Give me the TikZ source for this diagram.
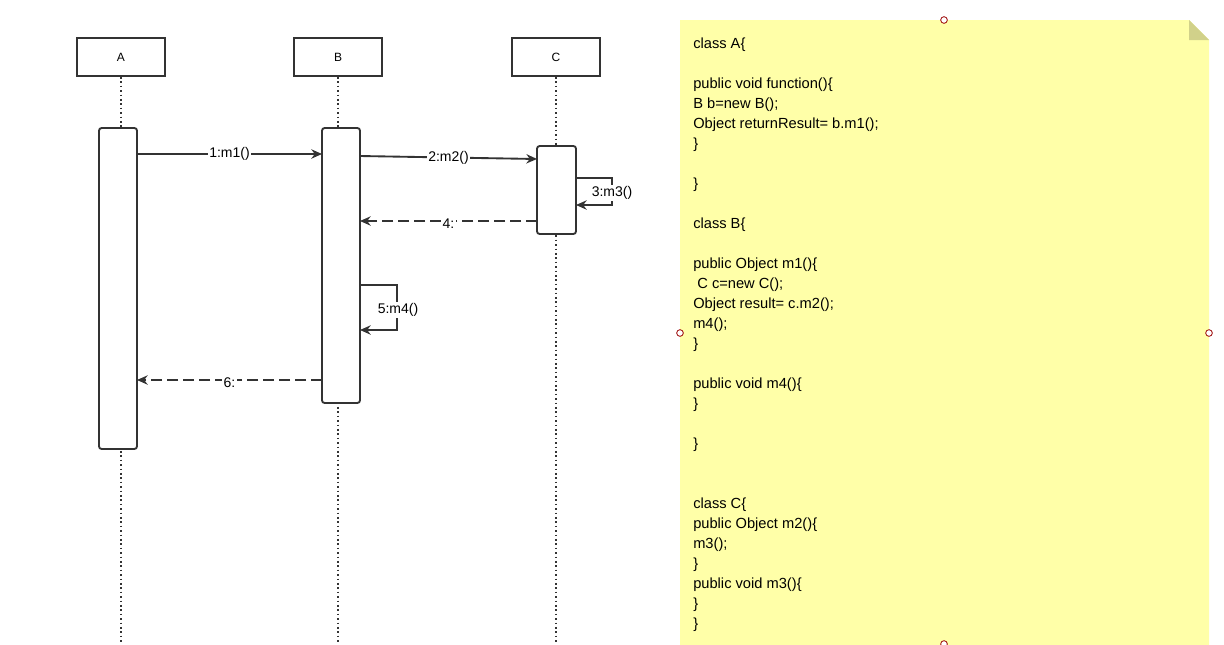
\documentclass[tikz,border=0pt]{standalone}
\usepackage{fontspec}
\setmainfont{Liberation Sans}
\usetikzlibrary{arrows.meta}
\definecolor{note}{HTML}{FFFFA8}
\definecolor{ln}{HTML}{333333}
\begin{document}
\begin{tikzpicture}[x=0.75pt,y=-0.75pt,
  obj/.style={draw=ln,line width=1.4pt,minimum width=66pt,minimum height=28.5pt,inner sep=0pt,font=\fontsize{9}{10}\selectfont},
  act/.style={draw=ln,line width=1.4pt,fill=white,rounded corners=2pt},
  life/.style={draw=ln,line width=1.3pt,dotted},
  msg/.style={draw=ln,line width=1.4pt,-{Stealth[length=8pt,width=7pt]}},
  ret/.style={msg,dashed,dash pattern=on 8pt off 4pt},
  lbl/.style={fill=white,inner sep=1pt,font=\fontsize{10.5}{12}\selectfont},
  code/.style={anchor=west,inner sep=0pt,font=\fontsize{11}{13}\selectfont},
  handle/.style={circle,draw=red!60!black,fill=white,inner sep=0pt,minimum size=5pt,line width=0.6pt}]
\useasboundingbox (0,0) rectangle (1224,644);
\fill[white] (0,0) rectangle (1224,644);
% note
\fill[note] (680,20) -- (1189,20) -- (1209,40) -- (1209,650) -- (680,650) -- cycle;
\fill[note!70!black!60!note] (1189,20) -- (1209,40) -- (1189,40) -- cycle;
\foreach \n/\p in {h1/{(944,20)},h2/{(680,333)},h3/{(1209,333)},h4/{(944,644)}} \node[handle] (\n) at \p {};
\foreach \i/\t in {0/{class A\{},2/{public void function()\{},3/{B b=new B();},4/{Object returnResult= b.m1();},5/{\}},7/{\}},9/{class B\{},11/{public Object m1()\{},12/{\ C c=new C();},13/{Object result= c.m2();},14/{m4();},15/{\}},17/{public void m4()\{},18/{\}},20/{\}},23/{class C\{},24/{public Object m2()\{},25/{m3();},26/{\}},27/{public void m3()\{},28/{\}},29/{\}}}
  \node[code] (t\i) at (693,45+20*\i) {\t};
% objects
\node[obj] (A) at (121,57) {A};
\node[obj] (B) at (338,57) {B};
\node[obj] (C) at (556,57) {C};
\coordinate (Ae) at (121,644); \coordinate (Be) at (338,644); \coordinate (Ce) at (556,644);
\draw[life] (A.south) -- (Ae);
\draw[life] (B.south) -- (Be);
\draw[life] (C.south) -- (Ce);
\draw[act] (99,128) rectangle (137,449); \node (aA) at (118,288) {};
\draw[act] (322,128) rectangle (360,403);
\draw[act] (537,146) rectangle (576,234);
% messages
\coordinate (m1s) at (137,154); \coordinate (m1e) at (322,154);
\draw[msg] (m1s) -- node[lbl,pos=0.5]{1:m1()} (m1e);
\coordinate (m2s) at (360,156); \coordinate (m2e) at (537,159);
\draw[msg] (m2s) -- node[lbl,pos=0.5]{2:m2()} (m2e);
\coordinate (m3s) at (576,178); \coordinate (m3e) at (576,205);
\draw[msg] (m3s) -- (612,178) -- (612,205) -- (m3e);
\node[lbl] (l3) at (612,193) {3:m3()};
\coordinate (r4s) at (537,221); \coordinate (r4e) at (360,221);
\draw[ret] (r4s) -- node[lbl,pos=0.5,yshift=-2pt]{4:} (r4e);
\coordinate (m5s) at (360,285); \coordinate (m5e) at (360,330);
\draw[msg] (m5s) -- (397,285) -- (397,330) -- (m5e);
\node[lbl] (l5) at (398,310) {5:m4()};
\coordinate (r6s) at (322,380); \coordinate (r6e) at (137,380);
\draw[ret] (r6s) -- node[lbl,pos=0.5,yshift=-2pt]{6:} (r6e);
\end{tikzpicture}
\end{document}
